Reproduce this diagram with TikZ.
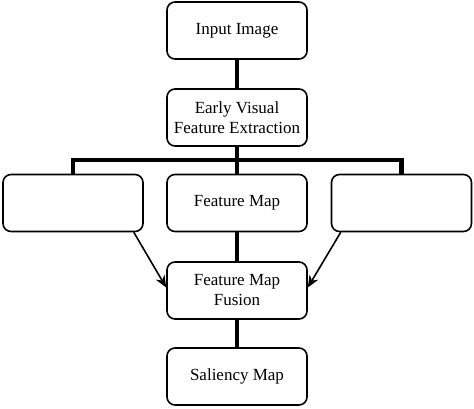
\documentclass[tikz,border=0pt]{standalone}
\usepackage{fontspec}
\setmainfont{Liberation Serif}
\usepackage{tikz}
\usetikzlibrary{arrows.meta}

\begin{document}
\begin{tikzpicture}[x=1pt,y=-1pt,
	box/.style={draw, rounded corners=8pt, line width=1.6pt, minimum width=140pt, minimum height=57pt, align=center, font=\fontsize{17}{20}\selectfont},
	link/.style={line width=4.5pt},
	feed/.style={line width=1.6pt, -{Stealth[length=12pt,width=10pt]}}]
			\useasboundingbox (0,0) rectangle (474,408);
			\node[box] at (237,30.5) (input){Input Image};
			\node[box] at (237,117.5) (early){Early Visual\\Feature Extraction};
			\node[box] at (73,203) (left){};
			\node[box] at (237,203) (map){Feature Map};
			\node[box] at (401.5,203) (right){};
			\node[box] at (237,290.5) (fusion){Feature Map\\Fusion};
			\node[box] at (237,376.5) (saliency){Saliency Map};
			\coordinate (barl) at (73,160);
			\coordinate (barr) at (401.5,160);
			\draw[link] (input.south) -- (early.north);
			\draw[link] (early.south) -- (map.north);
			\draw[link] (left.north) -- (barl) -- (barr) -- (right.north);
			\draw[link] (map.south) -- (fusion.north);
			\draw[link] (fusion.south) -- (saliency.north);
			\draw[feed] ([xshift=-10pt]left.south east) -- ([yshift=3pt]fusion.west);
			\draw[feed] ([xshift=10pt]right.south west) -- ([yshift=3pt]fusion.east);
		\end{tikzpicture}
\end{document}
